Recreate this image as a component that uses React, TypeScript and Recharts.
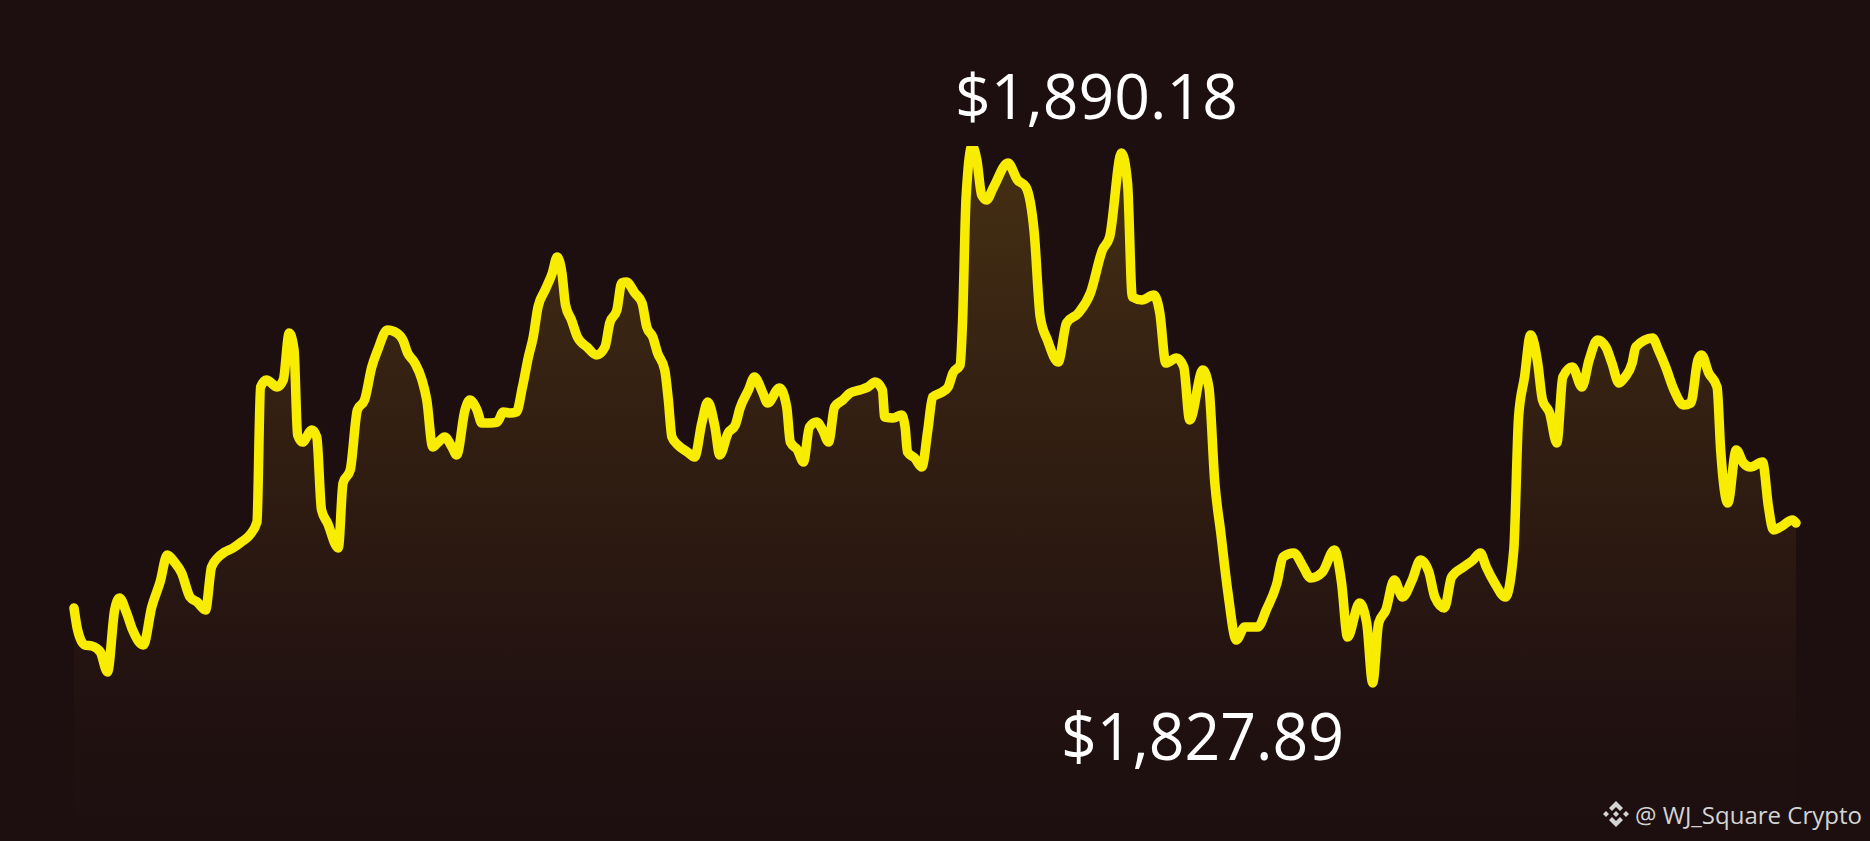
import React from "react";
import { Area, AreaChart, XAxis, YAxis } from "recharts";

// minutes since the start of the 24h window
const TIMES = [
  0, 3, 9, 15, 22, 28, 34, 38, 44, 49, 58, 65, 72, 78, 84, 90, 97, 103, 110, 115,
  120, 126, 133, 140, 147, 153, 156, 161, 170, 175, 180, 184, 187, 191, 199, 203, 207, 212, 221, 225,
  231, 237, 243, 249, 254, 262, 270, 275, 279, 285, 291, 295, 300, 304, 310, 316, 320, 327, 331, 337,
  341, 348, 354, 359, 365, 370, 375, 380, 384, 388, 394, 400, 404, 408, 411, 416, 421, 429, 437, 444,
  448, 454, 458, 462, 469, 475, 479, 484, 488, 494, 497, 500, 505, 513, 519, 525, 530, 536, 540, 547,
  553, 557, 564, 569, 576, 580, 590, 596, 599, 605, 610, 615, 621, 626, 631, 636, 643, 649, 657, 664,
  670, 676, 678, 685, 692, 695, 697, 703, 709, 714, 718, 726, 731, 735, 741, 743, 746, 751, 755, 759,
  763, 769, 781, 789, 796, 803, 808, 814, 823, 830, 840, 850, 860, 866, 876, 881, 885, 893, 903, 908,
  913, 922, 928, 933, 944, 949, 954, 959, 965, 972, 979, 990, 997, 1006, 1011, 1020, 1028, 1034, 1044, 1054,
  1060, 1065, 1075, 1081, 1086, 1091, 1097, 1104, 1111, 1119, 1126, 1133, 1138, 1146, 1152, 1162, 1170, 1176, 1181, 1188,
  1197, 1204, 1208, 1213, 1218, 1224, 1228, 1234, 1240, 1245, 1253, 1261, 1267, 1274, 1281, 1286, 1292, 1297, 1303, 1306,
  1320, 1325, 1331, 1338, 1346, 1352, 1358, 1361, 1367, 1374, 1377, 1383, 1390, 1396, 1402, 1412, 1417, 1421, 1427, 1437,
  1440,
];

// price in USD
const PRICES = [
  1836.59, 1834.04, 1832.3, 1832.18, 1831.48, 1829.16, 1836.36, 1837.75, 1836.01, 1834.04,
  1832.3, 1836.7, 1839.6, 1842.74, 1841.92, 1840.65, 1837.86, 1837.28, 1836.36, 1841.34,
  1842.39, 1843.08, 1843.55, 1844.24, 1845.06, 1846.56, 1862.22, 1863.04, 1862.22, 1863.04,
  1868.49, 1866.52, 1856.66, 1855.84, 1857.24, 1856.42, 1847.96, 1846.45, 1843.55, 1851.09,
  1852.6, 1859.56, 1860.72, 1864.54, 1866.52, 1868.84, 1868.49, 1867.68, 1866.17, 1865.01,
  1863.04, 1860.72, 1855.26, 1855.73, 1856.42, 1855.26, 1854.34, 1859.56, 1860.72, 1859.56,
  1858.05, 1858.05, 1858.16, 1859.32, 1859.21, 1859.32, 1862.22, 1865.7, 1868.02, 1871.5,
  1873.48, 1875.45, 1877.3, 1875.45, 1871.74, 1870.0, 1868.02, 1866.86, 1865.94, 1866.86,
  1869.65, 1871.16, 1874.29, 1874.4, 1873.13, 1871.97, 1869.18, 1868.02, 1866.17, 1864.2,
  1860.72, 1856.42, 1855.5, 1854.68, 1854.1, 1858.05, 1860.48, 1857.58, 1854.34, 1856.89,
  1857.82, 1859.79, 1861.88, 1863.38, 1861.53, 1860.37, 1862.11, 1859.9, 1855.84, 1854.92,
  1853.52, 1857.58, 1858.16, 1857.24, 1855.84, 1859.9, 1860.72, 1861.53, 1861.88, 1862.22,
  1862.8, 1861.88, 1858.74, 1858.63, 1858.98, 1857.58, 1854.68, 1853.99, 1852.94, 1857.24,
  1861.06, 1861.64, 1862.22, 1863.85, 1864.78, 1869.65, 1884.26, 1890.18, 1888.56, 1884.5,
  1883.92, 1885.42, 1888.21, 1886.24, 1885.42, 1880.09, 1870.34, 1867.68, 1865.12, 1869.65,
  1870.81, 1873.13, 1878.12, 1879.62, 1889.37, 1885.89, 1872.66, 1872.32, 1872.9, 1870.81,
  1865.01, 1865.59, 1864.54, 1858.4, 1864.2, 1862.22, 1851.09, 1845.29, 1838.33, 1832.88,
  1834.38, 1834.38, 1836.36, 1839.49, 1842.5, 1842.97, 1841.34, 1840.07, 1840.76, 1843.32,
  1839.49, 1833.22, 1837.17, 1834.85, 1827.89, 1834.85, 1836.36, 1839.84, 1837.86, 1839.84,
  1842.16, 1840.76, 1837.86, 1836.59, 1840.18, 1841.34, 1842.16, 1842.97, 1841.34, 1839.49,
  1837.86, 1843.32, 1858.74, 1863.38, 1868.26, 1865.01, 1860.72, 1859.21, 1855.73, 1863.38,
  1864.54, 1862.22, 1865.36, 1867.68, 1866.86, 1865.01, 1862.69, 1863.38, 1865.01, 1866.86,
  1867.91, 1866.52, 1864.54, 1861.88, 1860.14, 1860.37, 1865.36, 1865.94, 1863.85, 1862.22,
  1854.92, 1848.77, 1854.92, 1853.41, 1852.94, 1853.52, 1848.3, 1845.64, 1845.98, 1846.8,
  1846.45,
];

const WATERMARK = "@ WJ_Square Crypto";

const BG = "#1d0f10";
const LINE = "#f8ec00";

const data = TIMES.map((t, i) => ({ t, price: PRICES[i] }));
const hi = Math.max(...PRICES);
const lo = Math.min(...PRICES);
const fmt = (v: number) =>
  "$" + v.toLocaleString("en-US", { minimumFractionDigits: 2, maximumFractionDigits: 2 });

// the fill runs past the lowest price down to the bottom edge
const FLOOR = lo - 18.33;

export default function App() {
  return (
    <div style={{ position: "relative", width: 1870, height: 841, background: BG, overflow: "hidden" }}>
      <style>{`body{margin:0;background:${BG};}`}</style>
      <AreaChart width={1870} height={841} data={data} margin={{ top: 146, right: 74, bottom: 0, left: 74 }}>
        <defs>
          <linearGradient id="fillGrad" x1="0" y1="0" x2="0" y2="1">
            <stop offset="0%" stopColor="#e8b420" stopOpacity={0.2} />
            <stop offset="55%" stopColor="#c88a20" stopOpacity={0.09} />
            <stop offset="85%" stopColor="#a06020" stopOpacity={0.02} />
            <stop offset="100%" stopColor="#a06020" stopOpacity={0} />
          </linearGradient>
        </defs>
        <XAxis dataKey="t" type="number" domain={[0, 1440]} hide />
        <YAxis type="number" domain={[FLOOR, hi]} hide allowDataOverflow />
        <Area
          type="monotone"
          dataKey="price"
          stroke={LINE}
          strokeWidth={9.5}
          strokeLinejoin="round"
          strokeLinecap="round"
          fill="url(#fillGrad)"
          fillOpacity={1}
          baseValue={FLOOR}
          dot={false}
          activeDot={false}
          isAnimationActive={false}
        />
      </AreaChart>

      <svg width={1870} height={841} style={{ position: "absolute", left: 0, top: 0, pointerEvents: "none" }}>
        <text
          x={955}
          y={119}
          fill="#ffffff"
          fontFamily="'Open Sans', sans-serif"
          fontSize={62}
          textLength={283}
          lengthAdjust="spacingAndGlyphs"
        >
          {fmt(hi)}
        </text>
        <text
          x={1061}
          y={760}
          fill="#ffffff"
          fontFamily="'Open Sans', sans-serif"
          fontSize={66}
          textLength={283}
          lengthAdjust="spacingAndGlyphs"
        >
          {fmt(lo)}
        </text>

        {/* binance mark */}
        <g transform="translate(1616,814)" fill="#d4d4d4">
          <path d="M0,-13 L7,-6 L4,-3 L0,-7 L-4,-3 L-7,-6 Z" />
          <path d="M0,13 L7,6 L4,3 L0,7 L-4,3 L-7,6 Z" />
          <path d="M-13,0 L-10,-3 L-7,0 L-10,3 Z" />
          <path d="M13,0 L10,-3 L7,0 L10,3 Z" />
          <path d="M0,-3 L3,0 L0,3 L-3,0 Z" />
        </g>
        <text x={1635} y={824} fill="#d4d4d4" fontFamily="'Open Sans', sans-serif" fontSize={24}>
          {WATERMARK}
        </text>
      </svg>
    </div>
  );
}
